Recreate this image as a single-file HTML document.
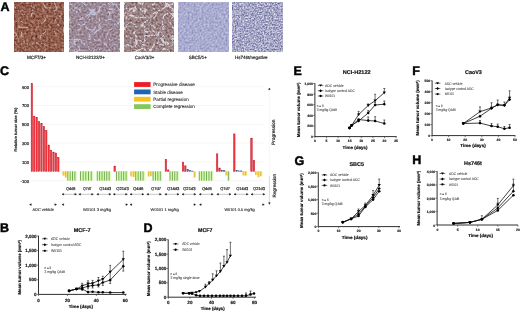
<!DOCTYPE html>
<html><head><meta charset="utf-8"><title>Figure</title>
<style>html,body{margin:0;padding:0;background:#fff;width:520px;height:312px;overflow:hidden}svg{display:block}</style>
</head><body>
<svg width="520" height="312" viewBox="0 0 520 312" font-family='"Liberation Sans", Arial, sans-serif' text-rendering="geometricPrecision">
<rect width="520" height="312" fill="#fff"/>
<defs><filter id="tx0" x="0" y="0" width="1" height="1" color-interpolation-filters="sRGB"><feTurbulence type="fractalNoise" baseFrequency="0.45" numOctaves="2" seed="3" result="n1"/><feColorMatrix in="n1" type="matrix" values="0.569 0 0 0 0.284  0.535 0 0 0 0.097  0.500 0 0 0 0.052  0 0 0 0 1" result="base0"/><feOffset in="base0" dx="0" dy="0" result="base"/><feTurbulence type="turbulence" baseFrequency="0.09" numOctaves="3" seed="4" result="n2"/><feColorMatrix in="n2" type="matrix" values="0 0 0 0 0.784  0 0 0 0 0.690  0 0 0 0 0.686  -9.000 0 0 0 1.350" result="st0"/><feOffset in="st0" dx="0" dy="0" result="st"/><feComposite in="st" in2="base" operator="over"/></filter><filter id="tx1" x="0" y="0" width="1" height="1" color-interpolation-filters="sRGB"><feTurbulence type="fractalNoise" baseFrequency="0.5" numOctaves="2" seed="5" result="n1"/><feColorMatrix in="n1" type="matrix" values="0.424 0 0 0 0.396  0.486 0 0 0 0.286  0.502 0 0 0 0.329  0 0 0 0 1" result="base0"/><feOffset in="base0" dx="0" dy="0" result="base"/><feTurbulence type="turbulence" baseFrequency="0.1" numOctaves="3" seed="6" result="n2"/><feColorMatrix in="n2" type="matrix" values="0 0 0 0 0.769  0 0 0 0 0.776  0 0 0 0 0.878  -8.000 0 0 0 1.500" result="st0"/><feOffset in="st0" dx="0" dy="0" result="st"/><feComposite in="st" in2="base" operator="over"/></filter><filter id="tx2" x="0" y="0" width="1" height="1" color-interpolation-filters="sRGB"><feTurbulence type="fractalNoise" baseFrequency="0.5" numOctaves="2" seed="7" result="n1"/><feColorMatrix in="n1" type="matrix" values="0.507 0 0 0 0.343  0.626 0 0 0 0.189  0.715 0 0 0 0.152  0 0 0 0 1" result="base0"/><feOffset in="base0" dx="0" dy="0" result="base"/><feTurbulence type="turbulence" baseFrequency="0.11" numOctaves="3" seed="8" result="n2"/><feColorMatrix in="n2" type="matrix" values="0 0 0 0 0.871  0 0 0 0 0.855  0 0 0 0 0.894  -8.000 0 0 0 1.600" result="st0"/><feOffset in="st0" dx="0" dy="0" result="st"/><feComposite in="st" in2="base" operator="over"/></filter><filter id="tx3" x="0" y="0" width="1" height="1" color-interpolation-filters="sRGB"><feTurbulence type="fractalNoise" baseFrequency="0.5" numOctaves="2" seed="9" result="n1"/><feColorMatrix in="n1" type="matrix" values="0.376 0 0 0 0.473  0.376 0 0 0 0.481  0.275 0 0 0 0.676  0 0 0 0 1" result="base0"/><feGaussianBlur in="base0" stdDeviation="0.35" result="base"/><feTurbulence type="turbulence" baseFrequency="0.08" numOctaves="3" seed="10" result="n2"/><feColorMatrix in="n2" type="matrix" values="0 0 0 0 0.784  0 0 0 0 0.792  0 0 0 0 0.894  -4.000 0 0 0 0.500" result="st0"/><feOffset in="st0" dx="0" dy="0" result="st"/><feComposite in="st" in2="base" operator="over"/></filter><filter id="tx4" x="0" y="0" width="1" height="1" color-interpolation-filters="sRGB"><feTurbulence type="fractalNoise" baseFrequency="0.65" numOctaves="2" seed="11" result="n1"/><feColorMatrix in="n1" type="matrix" values="0.831 0 0 0 0.231  0.831 0 0 0 0.231  0.612 0 0 0 0.467  0 0 0 0 1" result="base0"/><feGaussianBlur in="base0" stdDeviation="0.3" result="base"/><feTurbulence type="turbulence" baseFrequency="0.1" numOctaves="3" seed="12" result="n2"/><feColorMatrix in="n2" type="matrix" values="0 0 0 0 0.804  0 0 0 0 0.804  0 0 0 0 0.894  -4.000 0 0 0 0.400" result="st0"/><feOffset in="st0" dx="0" dy="0" result="st"/><feComposite in="st" in2="base" operator="over"/></filter></defs>
<rect x="14.00" y="2" width="50" height="49.6" filter="url(#tx0)"/>
<text x="27.00" y="59.30" font-size="4.6" textLength="19.00" lengthAdjust="spacingAndGlyphs" fill="#222" stroke="#222" stroke-width="0.18">MCF7/3+</text>
<rect x="69.30" y="2" width="50" height="49.6" filter="url(#tx1)"/>
<text x="76.00" y="59.30" font-size="4.6" textLength="29.00" lengthAdjust="spacingAndGlyphs" fill="#222" stroke="#222" stroke-width="0.18">NCI-H2122/2+</text>
<rect x="124.00" y="2" width="50" height="49.6" filter="url(#tx2)"/>
<text x="134.80" y="59.30" font-size="4.6" textLength="19.60" lengthAdjust="spacingAndGlyphs" fill="#222" stroke="#222" stroke-width="0.18">CaoV3/2+</text>
<rect x="178.60" y="2" width="50" height="49.6" filter="url(#tx3)"/>
<text x="188.80" y="59.30" font-size="4.6" textLength="18.10" lengthAdjust="spacingAndGlyphs" fill="#222" stroke="#222" stroke-width="0.18">SBC5/1+</text>
<rect x="232.60" y="2" width="50" height="49.6" filter="url(#tx4)"/>
<text x="235.00" y="59.30" font-size="4.6" textLength="32.50" lengthAdjust="spacingAndGlyphs" fill="#222" stroke="#222" stroke-width="0.18">Hs746t/negative</text>
<text x="0.40" y="11.00" font-size="12.5" font-weight="bold" fill="#000" stroke="#000" stroke-width="0.45">A</text>
<text x="0.10" y="75.10" font-size="12.5" font-weight="bold" fill="#000" stroke="#000" stroke-width="0.45">C</text>
<text x="-0.10" y="231.90" font-size="12.5" font-weight="bold" fill="#000" stroke="#000" stroke-width="0.45">B</text>
<text x="143.50" y="231.80" font-size="12.5" font-weight="bold" fill="#000" stroke="#000" stroke-width="0.45">D</text>
<text x="293.40" y="75.10" font-size="12.5" font-weight="bold" fill="#000" stroke="#000" stroke-width="0.45">E</text>
<text x="412.20" y="75.20" font-size="12.5" font-weight="bold" fill="#000" stroke="#000" stroke-width="0.45">F</text>
<text x="294.50" y="164.60" font-size="12.5" font-weight="bold" fill="#000" stroke="#000" stroke-width="0.45">G</text>
<text x="412.30" y="164.30" font-size="12.5" font-weight="bold" fill="#000" stroke="#000" stroke-width="0.45">H</text>
<line x1="30.50" y1="86.70" x2="264.00" y2="86.70" stroke="#ececec" stroke-width="0.5"/>
<line x1="30.50" y1="105.50" x2="264.00" y2="105.50" stroke="#ececec" stroke-width="0.5"/>
<line x1="30.50" y1="124.30" x2="264.00" y2="124.30" stroke="#ececec" stroke-width="0.5"/>
<line x1="30.50" y1="143.10" x2="264.00" y2="143.10" stroke="#ececec" stroke-width="0.5"/>
<line x1="30.50" y1="161.90" x2="264.00" y2="161.90" stroke="#ececec" stroke-width="0.5"/>
<line x1="30.50" y1="180.70" x2="264.00" y2="180.70" stroke="#ececec" stroke-width="0.5"/>
<text x="29.10" y="88.65" font-size="4.3" text-anchor="end" fill="#222" stroke="#222" stroke-width="0.18">900</text>
<text x="29.10" y="107.45" font-size="4.3" text-anchor="end" fill="#222" stroke="#222" stroke-width="0.18">700</text>
<text x="29.10" y="126.25" font-size="4.3" text-anchor="end" fill="#222" stroke="#222" stroke-width="0.18">500</text>
<text x="29.10" y="145.05" font-size="4.3" text-anchor="end" fill="#222" stroke="#222" stroke-width="0.18">300</text>
<text x="29.10" y="163.85" font-size="4.3" text-anchor="end" fill="#222" stroke="#222" stroke-width="0.18">100</text>
<text x="29.10" y="182.65" font-size="4.3" text-anchor="end" fill="#222" stroke="#222" stroke-width="0.18">-100</text>
<text transform="translate(17.40,129.60) rotate(-90)" x="0" y="0" font-size="3.9" text-anchor="middle" textLength="43.80" lengthAdjust="spacingAndGlyphs" fill="#222" stroke="#222" stroke-width="0.18">Relative tumor size (%)</text>
<rect x="31.15" y="83.50" width="1.35" height="87.80" fill="#ff3a42" stroke="#c0101e" stroke-width="0.5"/>
<rect x="33.56" y="116.20" width="1.35" height="55.10" fill="#ff3a42" stroke="#c0101e" stroke-width="0.5"/>
<rect x="35.97" y="117.40" width="1.35" height="53.90" fill="#ff3a42" stroke="#c0101e" stroke-width="0.5"/>
<rect x="38.38" y="121.60" width="1.35" height="49.70" fill="#ff3a42" stroke="#c0101e" stroke-width="0.5"/>
<rect x="40.79" y="123.40" width="1.35" height="47.90" fill="#ff3a42" stroke="#c0101e" stroke-width="0.5"/>
<rect x="43.20" y="126.70" width="1.35" height="44.60" fill="#ff3a42" stroke="#c0101e" stroke-width="0.5"/>
<rect x="45.61" y="130.60" width="1.35" height="40.70" fill="#ff3a42" stroke="#c0101e" stroke-width="0.5"/>
<rect x="48.02" y="145.00" width="1.35" height="26.30" fill="#ff3a42" stroke="#c0101e" stroke-width="0.5"/>
<rect x="50.43" y="150.40" width="1.35" height="20.90" fill="#ff3a42" stroke="#c0101e" stroke-width="0.5"/>
<rect x="52.84" y="152.10" width="1.35" height="19.20" fill="#ff3a42" stroke="#c0101e" stroke-width="0.5"/>
<rect x="55.25" y="153.00" width="1.35" height="18.30" fill="#ff3a42" stroke="#c0101e" stroke-width="0.5"/>
<rect x="57.66" y="157.50" width="1.35" height="13.80" fill="#ff3a42" stroke="#c0101e" stroke-width="0.5"/>
<rect x="62.75" y="171.30" width="2.07" height="4.32" fill="#fbdc60"/>
<line x1="63.05" y1="171.30" x2="63.05" y2="175.62" stroke="#d8a82a" stroke-width="0.7"/>
<rect x="65.12" y="171.30" width="2.07" height="6.20" fill="#fbdc60"/>
<line x1="65.42" y1="171.30" x2="65.42" y2="177.50" stroke="#d8a82a" stroke-width="0.7"/>
<rect x="67.48" y="171.30" width="2.07" height="9.40" fill="#d4ffaa"/>
<line x1="67.78" y1="171.30" x2="67.78" y2="180.70" stroke="#4a8428" stroke-width="0.7"/>
<rect x="69.85" y="171.30" width="2.07" height="9.40" fill="#d4ffaa"/>
<line x1="70.15" y1="171.30" x2="70.15" y2="180.70" stroke="#4a8428" stroke-width="0.7"/>
<rect x="72.22" y="171.30" width="2.07" height="9.40" fill="#d4ffaa"/>
<line x1="72.52" y1="171.30" x2="72.52" y2="180.70" stroke="#4a8428" stroke-width="0.7"/>
<rect x="74.58" y="171.30" width="2.07" height="9.40" fill="#d4ffaa"/>
<line x1="74.88" y1="171.30" x2="74.88" y2="180.70" stroke="#4a8428" stroke-width="0.7"/>
<rect x="80.15" y="171.30" width="2.38" height="9.40" fill="#d4ffaa"/>
<line x1="80.45" y1="171.30" x2="80.45" y2="180.70" stroke="#4a8428" stroke-width="0.7"/>
<rect x="82.83" y="171.30" width="2.38" height="9.40" fill="#d4ffaa"/>
<line x1="83.13" y1="171.30" x2="83.13" y2="180.70" stroke="#4a8428" stroke-width="0.7"/>
<rect x="85.51" y="171.30" width="2.38" height="9.40" fill="#d4ffaa"/>
<line x1="85.81" y1="171.30" x2="85.81" y2="180.70" stroke="#4a8428" stroke-width="0.7"/>
<rect x="88.19" y="171.30" width="2.38" height="9.40" fill="#d4ffaa"/>
<line x1="88.49" y1="171.30" x2="88.49" y2="180.70" stroke="#4a8428" stroke-width="0.7"/>
<rect x="90.87" y="171.30" width="2.38" height="9.40" fill="#d4ffaa"/>
<line x1="91.17" y1="171.30" x2="91.17" y2="180.70" stroke="#4a8428" stroke-width="0.7"/>
<rect x="96.95" y="171.30" width="2.07" height="9.40" fill="#d4ffaa"/>
<line x1="97.25" y1="171.30" x2="97.25" y2="180.70" stroke="#4a8428" stroke-width="0.7"/>
<rect x="99.32" y="171.30" width="2.07" height="9.40" fill="#d4ffaa"/>
<line x1="99.62" y1="171.30" x2="99.62" y2="180.70" stroke="#4a8428" stroke-width="0.7"/>
<rect x="101.68" y="171.30" width="2.07" height="9.40" fill="#d4ffaa"/>
<line x1="101.98" y1="171.30" x2="101.98" y2="180.70" stroke="#4a8428" stroke-width="0.7"/>
<rect x="104.05" y="171.30" width="2.07" height="9.40" fill="#d4ffaa"/>
<line x1="104.35" y1="171.30" x2="104.35" y2="180.70" stroke="#4a8428" stroke-width="0.7"/>
<rect x="106.42" y="171.30" width="2.07" height="9.40" fill="#d4ffaa"/>
<line x1="106.72" y1="171.30" x2="106.72" y2="180.70" stroke="#4a8428" stroke-width="0.7"/>
<rect x="108.78" y="171.30" width="2.07" height="9.40" fill="#d4ffaa"/>
<line x1="109.08" y1="171.30" x2="109.08" y2="180.70" stroke="#4a8428" stroke-width="0.7"/>
<rect x="113.95" y="166.13" width="1.45" height="5.17" fill="#ff3a42" stroke="#c0101e" stroke-width="0.5"/>
<rect x="116.15" y="171.30" width="2.10" height="9.40" fill="#d4ffaa"/>
<line x1="116.45" y1="171.30" x2="116.45" y2="180.70" stroke="#4a8428" stroke-width="0.7"/>
<rect x="118.55" y="171.30" width="2.10" height="9.40" fill="#d4ffaa"/>
<line x1="118.85" y1="171.30" x2="118.85" y2="180.70" stroke="#4a8428" stroke-width="0.7"/>
<rect x="120.95" y="171.30" width="2.10" height="9.40" fill="#d4ffaa"/>
<line x1="121.25" y1="171.30" x2="121.25" y2="180.70" stroke="#4a8428" stroke-width="0.7"/>
<rect x="123.35" y="171.30" width="2.10" height="9.40" fill="#d4ffaa"/>
<line x1="123.65" y1="171.30" x2="123.65" y2="180.70" stroke="#4a8428" stroke-width="0.7"/>
<rect x="125.75" y="171.30" width="2.10" height="9.40" fill="#d4ffaa"/>
<line x1="126.05" y1="171.30" x2="126.05" y2="180.70" stroke="#4a8428" stroke-width="0.7"/>
<rect x="130.55" y="171.30" width="2.13" height="5.17" fill="#fbdc60"/>
<line x1="130.85" y1="171.30" x2="130.85" y2="176.47" stroke="#d8a82a" stroke-width="0.7"/>
<rect x="132.98" y="171.30" width="2.13" height="5.64" fill="#fbdc60"/>
<line x1="133.28" y1="171.30" x2="133.28" y2="176.94" stroke="#d8a82a" stroke-width="0.7"/>
<rect x="135.42" y="171.30" width="2.13" height="9.40" fill="#d4ffaa"/>
<line x1="135.72" y1="171.30" x2="135.72" y2="180.70" stroke="#4a8428" stroke-width="0.7"/>
<rect x="137.85" y="171.30" width="2.13" height="9.40" fill="#d4ffaa"/>
<line x1="138.15" y1="171.30" x2="138.15" y2="180.70" stroke="#4a8428" stroke-width="0.7"/>
<rect x="140.28" y="171.30" width="2.13" height="9.40" fill="#d4ffaa"/>
<line x1="140.58" y1="171.30" x2="140.58" y2="180.70" stroke="#4a8428" stroke-width="0.7"/>
<rect x="142.72" y="171.30" width="2.13" height="9.40" fill="#d4ffaa"/>
<line x1="143.02" y1="171.30" x2="143.02" y2="180.70" stroke="#4a8428" stroke-width="0.7"/>
<rect x="147.95" y="171.30" width="2.10" height="5.17" fill="#fbdc60"/>
<line x1="148.25" y1="171.30" x2="148.25" y2="176.47" stroke="#d8a82a" stroke-width="0.7"/>
<rect x="150.35" y="171.30" width="2.10" height="4.89" fill="#fbdc60"/>
<line x1="150.65" y1="171.30" x2="150.65" y2="176.19" stroke="#d8a82a" stroke-width="0.7"/>
<rect x="152.75" y="171.30" width="2.10" height="9.40" fill="#d4ffaa"/>
<line x1="153.05" y1="171.30" x2="153.05" y2="180.70" stroke="#4a8428" stroke-width="0.7"/>
<rect x="155.15" y="171.30" width="2.10" height="9.40" fill="#d4ffaa"/>
<line x1="155.45" y1="171.30" x2="155.45" y2="180.70" stroke="#4a8428" stroke-width="0.7"/>
<rect x="157.55" y="171.30" width="2.10" height="9.40" fill="#d4ffaa"/>
<line x1="157.85" y1="171.30" x2="157.85" y2="180.70" stroke="#4a8428" stroke-width="0.7"/>
<rect x="159.95" y="171.30" width="2.10" height="9.40" fill="#d4ffaa"/>
<line x1="160.25" y1="171.30" x2="160.25" y2="180.70" stroke="#4a8428" stroke-width="0.7"/>
<rect x="165.15" y="159.36" width="1.42" height="11.94" fill="#ff3a42" stroke="#c0101e" stroke-width="0.5"/>
<rect x="167.52" y="169.89" width="1.42" height="1.41" fill="#ff3a42" stroke="#c0101e" stroke-width="0.5"/>
<rect x="169.68" y="171.30" width="2.07" height="9.40" fill="#d4ffaa"/>
<line x1="169.98" y1="171.30" x2="169.98" y2="180.70" stroke="#4a8428" stroke-width="0.7"/>
<rect x="172.05" y="171.30" width="2.07" height="9.40" fill="#d4ffaa"/>
<line x1="172.35" y1="171.30" x2="172.35" y2="180.70" stroke="#4a8428" stroke-width="0.7"/>
<rect x="174.42" y="171.30" width="2.07" height="9.40" fill="#d4ffaa"/>
<line x1="174.72" y1="171.30" x2="174.72" y2="180.70" stroke="#4a8428" stroke-width="0.7"/>
<rect x="176.78" y="171.30" width="2.07" height="9.40" fill="#d4ffaa"/>
<line x1="177.08" y1="171.30" x2="177.08" y2="180.70" stroke="#4a8428" stroke-width="0.7"/>
<rect x="182.35" y="162.09" width="1.38" height="9.21" fill="#ff3a42" stroke="#c0101e" stroke-width="0.5"/>
<rect x="184.68" y="165.85" width="1.38" height="5.45" fill="#ff3a42" stroke="#c0101e" stroke-width="0.5"/>
<rect x="187.02" y="169.61" width="1.38" height="1.69" fill="#5a7fb8" stroke="#2a4a80" stroke-width="0.5"/>
<rect x="189.35" y="170.45" width="1.38" height="0.85" fill="#5a7fb8" stroke="#2a4a80" stroke-width="0.5"/>
<rect x="191.68" y="171.02" width="1.38" height="0.28" fill="#5a7fb8" stroke="#2a4a80" stroke-width="0.5"/>
<rect x="193.82" y="171.30" width="2.03" height="6.20" fill="#fbdc60"/>
<line x1="194.12" y1="171.30" x2="194.12" y2="177.50" stroke="#d8a82a" stroke-width="0.7"/>
<rect x="198.95" y="171.30" width="2.12" height="9.40" fill="#d4ffaa"/>
<line x1="199.25" y1="171.30" x2="199.25" y2="180.70" stroke="#4a8428" stroke-width="0.7"/>
<rect x="201.37" y="171.30" width="2.12" height="9.40" fill="#d4ffaa"/>
<line x1="201.67" y1="171.30" x2="201.67" y2="180.70" stroke="#4a8428" stroke-width="0.7"/>
<rect x="203.78" y="171.30" width="2.12" height="9.40" fill="#d4ffaa"/>
<line x1="204.08" y1="171.30" x2="204.08" y2="180.70" stroke="#4a8428" stroke-width="0.7"/>
<rect x="206.20" y="171.30" width="2.12" height="9.40" fill="#d4ffaa"/>
<line x1="206.50" y1="171.30" x2="206.50" y2="180.70" stroke="#4a8428" stroke-width="0.7"/>
<rect x="208.62" y="171.30" width="2.12" height="9.40" fill="#d4ffaa"/>
<line x1="208.92" y1="171.30" x2="208.92" y2="180.70" stroke="#4a8428" stroke-width="0.7"/>
<rect x="211.03" y="171.30" width="2.12" height="9.40" fill="#d4ffaa"/>
<line x1="211.33" y1="171.30" x2="211.33" y2="180.70" stroke="#4a8428" stroke-width="0.7"/>
<rect x="216.45" y="153.82" width="1.40" height="17.48" fill="#ff3a42" stroke="#c0101e" stroke-width="0.5"/>
<rect x="218.80" y="168.01" width="1.40" height="3.29" fill="#ff3a42" stroke="#c0101e" stroke-width="0.5"/>
<rect x="221.15" y="170.17" width="1.40" height="1.13" fill="#5a7fb8" stroke="#2a4a80" stroke-width="0.5"/>
<rect x="223.50" y="170.74" width="1.40" height="0.56" fill="#5a7fb8" stroke="#2a4a80" stroke-width="0.5"/>
<rect x="225.65" y="171.30" width="2.05" height="4.23" fill="#fbdc60"/>
<line x1="225.95" y1="171.30" x2="225.95" y2="175.53" stroke="#d8a82a" stroke-width="0.7"/>
<rect x="228.00" y="171.30" width="2.05" height="9.40" fill="#d4ffaa"/>
<line x1="228.30" y1="171.30" x2="228.30" y2="180.70" stroke="#4a8428" stroke-width="0.7"/>
<rect x="233.65" y="133.98" width="1.38" height="37.32" fill="#ff3a42" stroke="#c0101e" stroke-width="0.5"/>
<rect x="235.98" y="170.74" width="1.38" height="0.56" fill="#5a7fb8" stroke="#2a4a80" stroke-width="0.5"/>
<rect x="238.32" y="170.83" width="1.38" height="0.47" fill="#5a7fb8" stroke="#2a4a80" stroke-width="0.5"/>
<rect x="240.65" y="170.92" width="1.38" height="0.38" fill="#5a7fb8" stroke="#2a4a80" stroke-width="0.5"/>
<rect x="242.78" y="171.30" width="2.03" height="4.23" fill="#fbdc60"/>
<line x1="243.08" y1="171.30" x2="243.08" y2="175.53" stroke="#d8a82a" stroke-width="0.7"/>
<rect x="245.12" y="171.30" width="2.03" height="4.23" fill="#fbdc60"/>
<line x1="245.42" y1="171.30" x2="245.42" y2="175.53" stroke="#d8a82a" stroke-width="0.7"/>
<rect x="250.75" y="138.21" width="1.45" height="33.09" fill="#ff3a42" stroke="#c0101e" stroke-width="0.5"/>
<rect x="253.15" y="160.40" width="1.45" height="10.90" fill="#ff3a42" stroke="#c0101e" stroke-width="0.5"/>
<rect x="255.35" y="171.30" width="2.10" height="3.76" fill="#fbdc60"/>
<line x1="255.65" y1="171.30" x2="255.65" y2="175.06" stroke="#d8a82a" stroke-width="0.7"/>
<rect x="257.75" y="171.30" width="2.10" height="5.83" fill="#fbdc60"/>
<line x1="258.05" y1="171.30" x2="258.05" y2="177.13" stroke="#d8a82a" stroke-width="0.7"/>
<rect x="260.15" y="171.30" width="2.10" height="4.89" fill="#fbdc60"/>
<line x1="260.45" y1="171.30" x2="260.45" y2="176.19" stroke="#d8a82a" stroke-width="0.7"/>
<rect x="134.10" y="82.10" width="16.50" height="4.80" fill="#ee1c24"/>
<text x="153.30" y="86.20" font-size="4.6" textLength="41.50" lengthAdjust="spacingAndGlyphs" fill="#2a2a2a" stroke="#2a2a2a" stroke-width="0.1">Progressive disease</text>
<rect x="134.10" y="89.50" width="16.50" height="4.80" fill="#1c63b4"/>
<text x="153.30" y="93.60" font-size="4.6" textLength="29.40" lengthAdjust="spacingAndGlyphs" fill="#2a2a2a" stroke="#2a2a2a" stroke-width="0.1">Stable disease</text>
<rect x="134.10" y="96.80" width="16.50" height="4.80" fill="#f7c21c"/>
<text x="153.30" y="100.90" font-size="4.6" textLength="35.40" lengthAdjust="spacingAndGlyphs" fill="#2a2a2a" stroke="#2a2a2a" stroke-width="0.1">Partial regression</text>
<rect x="134.10" y="104.20" width="16.50" height="4.80" fill="#86c65a"/>
<text x="153.30" y="108.30" font-size="4.6" textLength="41.50" lengthAdjust="spacingAndGlyphs" fill="#2a2a2a" stroke="#2a2a2a" stroke-width="0.1">Complete regression</text>
<text x="66.10" y="190.20" font-size="4.1" textLength="9.40" lengthAdjust="spacingAndGlyphs" fill="#222" stroke="#222" stroke-width="0.18">Q4d6</text>
<text x="83.00" y="190.20" font-size="4.1" textLength="8.50" lengthAdjust="spacingAndGlyphs" fill="#222" stroke="#222" stroke-width="0.18">Q7d7</text>
<text x="99.30" y="190.20" font-size="4.1" textLength="11.80" lengthAdjust="spacingAndGlyphs" fill="#222" stroke="#222" stroke-width="0.18">Q14d3</text>
<text x="116.30" y="190.20" font-size="4.1" textLength="12.40" lengthAdjust="spacingAndGlyphs" fill="#222" stroke="#222" stroke-width="0.18">Q21d3</text>
<text x="133.00" y="190.20" font-size="4.1" textLength="10.50" lengthAdjust="spacingAndGlyphs" fill="#222" stroke="#222" stroke-width="0.18">Q4d6</text>
<text x="151.00" y="190.20" font-size="4.1" textLength="10.00" lengthAdjust="spacingAndGlyphs" fill="#222" stroke="#222" stroke-width="0.18">Q7d7</text>
<text x="166.90" y="190.20" font-size="4.1" textLength="12.50" lengthAdjust="spacingAndGlyphs" fill="#222" stroke="#222" stroke-width="0.18">Q14d3</text>
<text x="183.10" y="190.20" font-size="4.1" textLength="12.50" lengthAdjust="spacingAndGlyphs" fill="#222" stroke="#222" stroke-width="0.18">Q21d3</text>
<text x="201.90" y="190.20" font-size="4.1" textLength="10.00" lengthAdjust="spacingAndGlyphs" fill="#222" stroke="#222" stroke-width="0.18">Q4d6</text>
<text x="220.30" y="190.20" font-size="4.1" textLength="9.50" lengthAdjust="spacingAndGlyphs" fill="#222" stroke="#222" stroke-width="0.18">Q7d7</text>
<text x="236.30" y="190.20" font-size="4.1" textLength="11.80" lengthAdjust="spacingAndGlyphs" fill="#222" stroke="#222" stroke-width="0.18">Q14d3</text>
<text x="253.10" y="190.20" font-size="4.1" textLength="11.90" lengthAdjust="spacingAndGlyphs" fill="#222" stroke="#222" stroke-width="0.18">Q21d3</text>
<line x1="62.00" y1="194.30" x2="76.50" y2="194.30" stroke="#8a8a8a" stroke-width="0.5"/>
<polygon points="62.00,194.30 63.68,193.51 63.68,195.09" fill="#111" stroke="#111" stroke-width="0.45" stroke-linejoin="round"/>
<polygon points="76.50,194.30 74.82,193.51 74.82,195.09" fill="#111" stroke="#111" stroke-width="0.45" stroke-linejoin="round"/>
<line x1="78.80" y1="194.30" x2="93.30" y2="194.30" stroke="#8a8a8a" stroke-width="0.5"/>
<polygon points="78.80,194.30 80.48,193.51 80.48,195.09" fill="#111" stroke="#111" stroke-width="0.45" stroke-linejoin="round"/>
<polygon points="93.30,194.30 91.62,193.51 91.62,195.09" fill="#111" stroke="#111" stroke-width="0.45" stroke-linejoin="round"/>
<line x1="96.80" y1="194.30" x2="110.80" y2="194.30" stroke="#8a8a8a" stroke-width="0.5"/>
<polygon points="96.80,194.30 98.48,193.51 98.48,195.09" fill="#111" stroke="#111" stroke-width="0.45" stroke-linejoin="round"/>
<polygon points="110.80,194.30 109.12,193.51 109.12,195.09" fill="#111" stroke="#111" stroke-width="0.45" stroke-linejoin="round"/>
<line x1="113.30" y1="194.30" x2="127.30" y2="194.30" stroke="#8a8a8a" stroke-width="0.5"/>
<polygon points="113.30,194.30 114.98,193.51 114.98,195.09" fill="#111" stroke="#111" stroke-width="0.45" stroke-linejoin="round"/>
<polygon points="127.30,194.30 125.62,193.51 125.62,195.09" fill="#111" stroke="#111" stroke-width="0.45" stroke-linejoin="round"/>
<line x1="130.00" y1="194.30" x2="143.80" y2="194.30" stroke="#8a8a8a" stroke-width="0.5"/>
<polygon points="130.00,194.30 131.68,193.51 131.68,195.09" fill="#111" stroke="#111" stroke-width="0.45" stroke-linejoin="round"/>
<polygon points="143.80,194.30 142.12,193.51 142.12,195.09" fill="#111" stroke="#111" stroke-width="0.45" stroke-linejoin="round"/>
<line x1="146.80" y1="194.30" x2="161.30" y2="194.30" stroke="#8a8a8a" stroke-width="0.5"/>
<polygon points="146.80,194.30 148.48,193.51 148.48,195.09" fill="#111" stroke="#111" stroke-width="0.45" stroke-linejoin="round"/>
<polygon points="161.30,194.30 159.62,193.51 159.62,195.09" fill="#111" stroke="#111" stroke-width="0.45" stroke-linejoin="round"/>
<line x1="164.80" y1="194.30" x2="179.00" y2="194.30" stroke="#8a8a8a" stroke-width="0.5"/>
<polygon points="164.80,194.30 166.48,193.51 166.48,195.09" fill="#111" stroke="#111" stroke-width="0.45" stroke-linejoin="round"/>
<polygon points="179.00,194.30 177.32,193.51 177.32,195.09" fill="#111" stroke="#111" stroke-width="0.45" stroke-linejoin="round"/>
<line x1="182.00" y1="194.30" x2="195.80" y2="194.30" stroke="#8a8a8a" stroke-width="0.5"/>
<polygon points="182.00,194.30 183.68,193.51 183.68,195.09" fill="#111" stroke="#111" stroke-width="0.45" stroke-linejoin="round"/>
<polygon points="195.80,194.30 194.12,193.51 194.12,195.09" fill="#111" stroke="#111" stroke-width="0.45" stroke-linejoin="round"/>
<line x1="199.30" y1="194.30" x2="213.20" y2="194.30" stroke="#8a8a8a" stroke-width="0.5"/>
<polygon points="199.30,194.30 200.98,193.51 200.98,195.09" fill="#111" stroke="#111" stroke-width="0.45" stroke-linejoin="round"/>
<polygon points="213.20,194.30 211.52,193.51 211.52,195.09" fill="#111" stroke="#111" stroke-width="0.45" stroke-linejoin="round"/>
<line x1="216.80" y1="194.30" x2="231.00" y2="194.30" stroke="#8a8a8a" stroke-width="0.5"/>
<polygon points="216.80,194.30 218.48,193.51 218.48,195.09" fill="#111" stroke="#111" stroke-width="0.45" stroke-linejoin="round"/>
<polygon points="231.00,194.30 229.32,193.51 229.32,195.09" fill="#111" stroke="#111" stroke-width="0.45" stroke-linejoin="round"/>
<line x1="234.00" y1="194.30" x2="248.20" y2="194.30" stroke="#8a8a8a" stroke-width="0.5"/>
<polygon points="234.00,194.30 235.68,193.51 235.68,195.09" fill="#111" stroke="#111" stroke-width="0.45" stroke-linejoin="round"/>
<polygon points="248.20,194.30 246.52,193.51 246.52,195.09" fill="#111" stroke="#111" stroke-width="0.45" stroke-linejoin="round"/>
<line x1="251.00" y1="194.30" x2="264.80" y2="194.30" stroke="#8a8a8a" stroke-width="0.5"/>
<polygon points="251.00,194.30 252.68,193.51 252.68,195.09" fill="#111" stroke="#111" stroke-width="0.45" stroke-linejoin="round"/>
<polygon points="264.80,194.30 263.12,193.51 263.12,195.09" fill="#111" stroke="#111" stroke-width="0.45" stroke-linejoin="round"/>
<polygon points="29.60,204.60 31.28,203.81 31.28,205.39" fill="#111" stroke="#111" stroke-width="0.45" stroke-linejoin="round"/>
<polygon points="56.50,204.60 54.82,203.81 54.82,205.39" fill="#111" stroke="#111" stroke-width="0.45" stroke-linejoin="round"/>
<polygon points="62.00,204.60 63.68,203.81 63.68,205.39" fill="#111" stroke="#111" stroke-width="0.45" stroke-linejoin="round"/>
<polygon points="127.60,204.60 125.92,203.81 125.92,205.39" fill="#111" stroke="#111" stroke-width="0.45" stroke-linejoin="round"/>
<polygon points="130.00,204.60 131.68,203.81 131.68,205.39" fill="#111" stroke="#111" stroke-width="0.45" stroke-linejoin="round"/>
<polygon points="195.60,204.60 193.92,203.81 193.92,205.39" fill="#111" stroke="#111" stroke-width="0.45" stroke-linejoin="round"/>
<polygon points="199.50,204.60 201.18,203.81 201.18,205.39" fill="#111" stroke="#111" stroke-width="0.45" stroke-linejoin="round"/>
<polygon points="264.30,204.60 262.62,203.81 262.62,205.39" fill="#111" stroke="#111" stroke-width="0.45" stroke-linejoin="round"/>
<text x="32.50" y="211.20" font-size="4.0" textLength="21.30" lengthAdjust="spacingAndGlyphs" fill="#2a2a2a" stroke="#2a2a2a" stroke-width="0.12">ADC vehicle</text>
<text x="83.00" y="211.20" font-size="4.0" textLength="28.00" lengthAdjust="spacingAndGlyphs" fill="#2a2a2a" stroke="#2a2a2a" stroke-width="0.12">W0101 3 mg/kg</text>
<text x="150.60" y="211.20" font-size="4.0" textLength="28.20" lengthAdjust="spacingAndGlyphs" fill="#2a2a2a" stroke="#2a2a2a" stroke-width="0.12">W0101 1 mg/kg</text>
<text x="224.40" y="211.20" font-size="4.0" textLength="30.40" lengthAdjust="spacingAndGlyphs" fill="#2a2a2a" stroke="#2a2a2a" stroke-width="0.12">W0101 0.5 mg/kg</text>
<line x1="269.40" y1="89.50" x2="269.40" y2="176.00" stroke="#f0f0f0" stroke-width="0.45"/>
<line x1="269.40" y1="176.00" x2="269.40" y2="203.00" stroke="#a8a8a8" stroke-width="0.45"/>
<polygon points="269.40,88.00 268.65,89.60 270.15,89.60" fill="#111" stroke="#111" stroke-width="0.45" stroke-linejoin="round"/>
<polygon points="269.40,204.30 268.65,202.70 270.15,202.70" fill="#111" stroke="#111" stroke-width="0.45" stroke-linejoin="round"/>
<text transform="translate(275.29,132.30) rotate(-90)" x="0" y="0" font-size="4.7" text-anchor="middle" textLength="25.40" lengthAdjust="spacingAndGlyphs" fill="#222" stroke="#222" stroke-width="0.18">Progression</text>
<text transform="translate(276.09,185.70) rotate(-90)" x="0" y="0" font-size="4.7" text-anchor="middle" textLength="23.40" lengthAdjust="spacingAndGlyphs" fill="#222" stroke="#222" stroke-width="0.18">Regression</text>
<line x1="38.50" y1="235.70" x2="38.50" y2="294.40" stroke="#1a1a1a" stroke-width="0.9"/>
<line x1="38.50" y1="294.40" x2="126.50" y2="294.40" stroke="#1a1a1a" stroke-width="0.9"/>
<line x1="36.70" y1="236.00" x2="38.50" y2="236.00" stroke="#333" stroke-width="0.6"/>
<text x="36.60" y="237.50" font-size="4.5" font-weight="bold" text-anchor="end" fill="#222" stroke="#222" stroke-width="0.18">2,000</text>
<line x1="36.70" y1="250.60" x2="38.50" y2="250.60" stroke="#333" stroke-width="0.6"/>
<text x="36.60" y="252.10" font-size="4.5" font-weight="bold" text-anchor="end" fill="#222" stroke="#222" stroke-width="0.18">1,500</text>
<line x1="36.70" y1="265.20" x2="38.50" y2="265.20" stroke="#333" stroke-width="0.6"/>
<text x="36.60" y="266.70" font-size="4.5" font-weight="bold" text-anchor="end" fill="#222" stroke="#222" stroke-width="0.18">1,000</text>
<line x1="36.70" y1="279.80" x2="38.50" y2="279.80" stroke="#333" stroke-width="0.6"/>
<text x="36.60" y="281.30" font-size="4.5" font-weight="bold" text-anchor="end" fill="#222" stroke="#222" stroke-width="0.18">500</text>
<line x1="36.70" y1="294.40" x2="38.50" y2="294.40" stroke="#333" stroke-width="0.6"/>
<text x="36.60" y="295.90" font-size="4.5" font-weight="bold" text-anchor="end" fill="#222" stroke="#222" stroke-width="0.18">0</text>
<line x1="38.50" y1="294.40" x2="38.50" y2="296.00" stroke="#333" stroke-width="0.6"/>
<text x="38.50" y="301.50" font-size="4.5" font-weight="bold" text-anchor="middle" fill="#222" stroke="#222" stroke-width="0.18">0</text>
<line x1="67.43" y1="294.40" x2="67.43" y2="296.00" stroke="#333" stroke-width="0.6"/>
<text x="67.43" y="301.50" font-size="4.5" font-weight="bold" text-anchor="middle" fill="#222" stroke="#222" stroke-width="0.18">20</text>
<line x1="96.37" y1="294.40" x2="96.37" y2="296.00" stroke="#333" stroke-width="0.6"/>
<text x="96.37" y="301.50" font-size="4.5" font-weight="bold" text-anchor="middle" fill="#222" stroke="#222" stroke-width="0.18">40</text>
<line x1="125.30" y1="294.40" x2="125.30" y2="296.00" stroke="#333" stroke-width="0.6"/>
<text x="125.30" y="301.50" font-size="4.5" font-weight="bold" text-anchor="middle" fill="#222" stroke="#222" stroke-width="0.18">60</text>
<text x="73.80" y="231.90" font-size="5.5" font-weight="bold" textLength="16.70" lengthAdjust="spacingAndGlyphs" fill="#111" stroke="#111" stroke-width="0.18">MCF-7</text>
<line x1="42.00" y1="238.80" x2="47.60" y2="238.80" stroke="#111" stroke-width="0.6"/>
<polygon points="43.36,237.79 46.24,237.79 44.80,240.09" fill="#000"/>
<text x="51.00" y="240.10" font-size="3.9" textLength="19.00" lengthAdjust="spacingAndGlyphs" fill="#3a3a3a" stroke="#3a3a3a" stroke-width="0.06">ADC vehicle</text>
<line x1="42.00" y1="244.70" x2="47.60" y2="244.70" stroke="#111" stroke-width="0.6"/>
<polygon points="44.80,243.26 46.24,244.70 44.80,246.14 43.36,244.70" fill="#000"/>
<text x="51.00" y="246.00" font-size="3.9" textLength="30.50" lengthAdjust="spacingAndGlyphs" fill="#3a3a3a" stroke="#3a3a3a" stroke-width="0.06">Isotype control ADC</text>
<line x1="42.00" y1="250.80" x2="47.60" y2="250.80" stroke="#111" stroke-width="0.6"/>
<circle cx="44.80" cy="250.80" r="1.15" fill="#000"/>
<text x="51.00" y="252.10" font-size="3.9" textLength="11.00" lengthAdjust="spacingAndGlyphs" fill="#3a3a3a" stroke="#3a3a3a" stroke-width="0.06">W0101</text>
<text x="44.50" y="268.80" font-size="3.7" textLength="6.80" lengthAdjust="spacingAndGlyphs" fill="#3a3a3a" stroke="#3a3a3a" stroke-width="0.06">n = 5</text>
<text x="44.50" y="272.90" font-size="3.7" textLength="20.60" lengthAdjust="spacingAndGlyphs" fill="#3a3a3a" stroke="#3a3a3a" stroke-width="0.06">3 mg/kg Q4d6</text>
<text transform="translate(20.75,267.30) rotate(-90)" x="0" y="0" font-size="4.3" font-weight="bold" text-anchor="middle" textLength="54.60" lengthAdjust="spacingAndGlyphs" fill="#111" stroke="#111" stroke-width="0.18">Mean tumor volume (mm<tspan font-size="2.8" dy="-1.2">3</tspan><tspan dy="1.2">)</tspan></text>
<text x="68.75" y="307.90" font-size="4.4" font-weight="bold" textLength="24.25" lengthAdjust="spacingAndGlyphs" fill="#111" stroke="#111" stroke-width="0.18">Time (days)</text>
<polyline points="69.10,290.90 76.50,289.00 82.20,285.80 88.00,283.75 92.60,283.30 98.40,280.80 102.80,279.20 110.20,272.00 123.30,259.40" fill="none" stroke="#111" stroke-width="0.8" stroke-linejoin="round"/>
<line x1="82.20" y1="283.30" x2="82.20" y2="290.40" stroke="#111" stroke-width="0.6"/>
<line x1="81.20" y1="283.30" x2="83.20" y2="283.30" stroke="#111" stroke-width="0.6"/>
<line x1="81.20" y1="290.40" x2="83.20" y2="290.40" stroke="#111" stroke-width="0.6"/>
<line x1="88.00" y1="280.80" x2="88.00" y2="288.75" stroke="#111" stroke-width="0.6"/>
<line x1="87.00" y1="280.80" x2="89.00" y2="280.80" stroke="#111" stroke-width="0.6"/>
<line x1="87.00" y1="288.75" x2="89.00" y2="288.75" stroke="#111" stroke-width="0.6"/>
<line x1="92.60" y1="280.40" x2="92.60" y2="288.00" stroke="#111" stroke-width="0.6"/>
<line x1="91.60" y1="280.40" x2="93.60" y2="280.40" stroke="#111" stroke-width="0.6"/>
<line x1="91.60" y1="288.00" x2="93.60" y2="288.00" stroke="#111" stroke-width="0.6"/>
<line x1="98.40" y1="277.50" x2="98.40" y2="287.00" stroke="#111" stroke-width="0.6"/>
<line x1="97.40" y1="277.50" x2="99.40" y2="277.50" stroke="#111" stroke-width="0.6"/>
<line x1="97.40" y1="287.00" x2="99.40" y2="287.00" stroke="#111" stroke-width="0.6"/>
<line x1="102.80" y1="276.25" x2="102.80" y2="285.40" stroke="#111" stroke-width="0.6"/>
<line x1="101.80" y1="276.25" x2="103.80" y2="276.25" stroke="#111" stroke-width="0.6"/>
<line x1="101.80" y1="285.40" x2="103.80" y2="285.40" stroke="#111" stroke-width="0.6"/>
<line x1="110.20" y1="265.40" x2="110.20" y2="283.40" stroke="#111" stroke-width="0.6"/>
<line x1="109.20" y1="265.40" x2="111.20" y2="265.40" stroke="#111" stroke-width="0.6"/>
<line x1="109.20" y1="283.40" x2="111.20" y2="283.40" stroke="#111" stroke-width="0.6"/>
<line x1="123.30" y1="251.20" x2="123.30" y2="271.10" stroke="#111" stroke-width="0.6"/>
<line x1="122.30" y1="251.20" x2="124.30" y2="251.20" stroke="#111" stroke-width="0.6"/>
<line x1="122.30" y1="271.10" x2="124.30" y2="271.10" stroke="#111" stroke-width="0.6"/>
<polygon points="67.47,289.76 70.72,289.76 69.10,292.36" fill="#000"/>
<polygon points="74.88,287.86 78.12,287.86 76.50,290.46" fill="#000"/>
<polygon points="80.58,284.66 83.83,284.66 82.20,287.26" fill="#000"/>
<polygon points="86.38,282.61 89.62,282.61 88.00,285.21" fill="#000"/>
<polygon points="90.97,282.16 94.22,282.16 92.60,284.76" fill="#000"/>
<polygon points="96.78,279.66 100.03,279.66 98.40,282.26" fill="#000"/>
<polygon points="101.17,278.06 104.42,278.06 102.80,280.66" fill="#000"/>
<polygon points="108.58,270.86 111.83,270.86 110.20,273.46" fill="#000"/>
<polygon points="121.67,258.26 124.92,258.26 123.30,260.86" fill="#000"/>
<polyline points="69.10,290.90 76.50,289.00 82.20,288.00 88.00,286.25 92.60,285.40 98.40,285.00 102.80,282.50 110.20,280.10 123.30,266.20" fill="none" stroke="#111" stroke-width="0.8" stroke-linejoin="round"/>
<polygon points="69.10,289.27 70.72,290.90 69.10,292.52 67.47,290.90" fill="#000"/>
<polygon points="76.50,287.38 78.12,289.00 76.50,290.62 74.88,289.00" fill="#000"/>
<polygon points="82.20,286.38 83.83,288.00 82.20,289.62 80.58,288.00" fill="#000"/>
<polygon points="88.00,284.62 89.62,286.25 88.00,287.88 86.38,286.25" fill="#000"/>
<polygon points="92.60,283.77 94.22,285.40 92.60,287.02 90.97,285.40" fill="#000"/>
<polygon points="98.40,283.38 100.03,285.00 98.40,286.62 96.78,285.00" fill="#000"/>
<polygon points="102.80,280.88 104.42,282.50 102.80,284.12 101.17,282.50" fill="#000"/>
<polygon points="110.20,278.48 111.83,280.10 110.20,281.73 108.58,280.10" fill="#000"/>
<polygon points="123.30,264.57 124.92,266.20 123.30,267.82 121.67,266.20" fill="#000"/>
<polyline points="69.10,290.90 76.50,289.00 82.20,289.00 88.00,292.10 92.60,291.80 98.40,292.30 102.80,292.30 110.20,292.50 123.30,292.50" fill="none" stroke="#111" stroke-width="0.8" stroke-linejoin="round"/>
<circle cx="69.10" cy="290.90" r="1.30" fill="#000"/>
<circle cx="76.50" cy="289.00" r="1.30" fill="#000"/>
<circle cx="82.20" cy="289.00" r="1.30" fill="#000"/>
<circle cx="88.00" cy="292.10" r="1.30" fill="#000"/>
<circle cx="92.60" cy="291.80" r="1.30" fill="#000"/>
<circle cx="98.40" cy="292.30" r="1.30" fill="#000"/>
<circle cx="102.80" cy="292.30" r="1.30" fill="#000"/>
<circle cx="110.20" cy="292.50" r="1.30" fill="#000"/>
<circle cx="123.30" cy="292.50" r="1.30" fill="#000"/>
<line x1="168.20" y1="239.45" x2="168.20" y2="297.20" stroke="#1a1a1a" stroke-width="0.9"/>
<line x1="168.20" y1="297.20" x2="256.00" y2="297.20" stroke="#1a1a1a" stroke-width="0.9"/>
<line x1="166.40" y1="239.75" x2="168.20" y2="239.75" stroke="#333" stroke-width="0.6"/>
<text x="166.30" y="241.25" font-size="4.6" font-weight="bold" text-anchor="end" fill="#222" stroke="#222" stroke-width="0.18">2,000</text>
<line x1="166.40" y1="254.10" x2="168.20" y2="254.10" stroke="#333" stroke-width="0.6"/>
<text x="166.30" y="255.60" font-size="4.6" font-weight="bold" text-anchor="end" fill="#222" stroke="#222" stroke-width="0.18">1,500</text>
<line x1="166.40" y1="268.50" x2="168.20" y2="268.50" stroke="#333" stroke-width="0.6"/>
<text x="166.30" y="270.00" font-size="4.6" font-weight="bold" text-anchor="end" fill="#222" stroke="#222" stroke-width="0.18">1,000</text>
<line x1="166.40" y1="282.90" x2="168.20" y2="282.90" stroke="#333" stroke-width="0.6"/>
<text x="166.30" y="284.40" font-size="4.6" font-weight="bold" text-anchor="end" fill="#222" stroke="#222" stroke-width="0.18">500</text>
<line x1="166.40" y1="297.20" x2="168.20" y2="297.20" stroke="#333" stroke-width="0.6"/>
<text x="166.30" y="298.70" font-size="4.6" font-weight="bold" text-anchor="end" fill="#222" stroke="#222" stroke-width="0.18">0</text>
<line x1="168.40" y1="297.20" x2="168.40" y2="298.80" stroke="#333" stroke-width="0.6"/>
<text x="168.40" y="304.40" font-size="4.6" font-weight="bold" text-anchor="middle" fill="#222" stroke="#222" stroke-width="0.18">0</text>
<line x1="189.92" y1="297.20" x2="189.92" y2="298.80" stroke="#333" stroke-width="0.6"/>
<text x="189.92" y="304.40" font-size="4.6" font-weight="bold" text-anchor="middle" fill="#222" stroke="#222" stroke-width="0.18">20</text>
<line x1="211.44" y1="297.20" x2="211.44" y2="298.80" stroke="#333" stroke-width="0.6"/>
<text x="211.44" y="304.40" font-size="4.6" font-weight="bold" text-anchor="middle" fill="#222" stroke="#222" stroke-width="0.18">40</text>
<line x1="232.96" y1="297.20" x2="232.96" y2="298.80" stroke="#333" stroke-width="0.6"/>
<text x="232.96" y="304.40" font-size="4.6" font-weight="bold" text-anchor="middle" fill="#222" stroke="#222" stroke-width="0.18">60</text>
<line x1="254.48" y1="297.20" x2="254.48" y2="298.80" stroke="#333" stroke-width="0.6"/>
<text x="254.48" y="304.40" font-size="4.6" font-weight="bold" text-anchor="middle" fill="#222" stroke="#222" stroke-width="0.18">80</text>
<text x="198.10" y="232.00" font-size="5.5" font-weight="bold" textLength="14.40" lengthAdjust="spacingAndGlyphs" fill="#111" stroke="#111" stroke-width="0.18">MCF7</text>
<line x1="172.80" y1="244.00" x2="178.40" y2="244.00" stroke="#111" stroke-width="0.6"/>
<polygon points="174.16,242.99 177.04,242.99 175.60,245.29" fill="#000"/>
<text x="182.20" y="245.30" font-size="3.9" textLength="17.60" lengthAdjust="spacingAndGlyphs" fill="#3a3a3a" stroke="#3a3a3a" stroke-width="0.06">ADC vehicle</text>
<line x1="172.80" y1="249.75" x2="178.40" y2="249.75" stroke="#111" stroke-width="0.6"/>
<circle cx="175.60" cy="249.75" r="1.15" fill="#000"/>
<text x="182.20" y="251.05" font-size="3.9" textLength="10.10" lengthAdjust="spacingAndGlyphs" fill="#3a3a3a" stroke="#3a3a3a" stroke-width="0.06">W0101</text>
<text x="170.50" y="274.90" font-size="3.7" textLength="6.80" lengthAdjust="spacingAndGlyphs" fill="#3a3a3a" stroke="#3a3a3a" stroke-width="0.06">n = 6</text>
<text x="170.50" y="279.00" font-size="3.7" textLength="29.10" lengthAdjust="spacingAndGlyphs" fill="#3a3a3a" stroke="#3a3a3a" stroke-width="0.06">3 mg/kg single dose</text>
<text transform="translate(150.15,268.75) rotate(-90)" x="0" y="0" font-size="4.3" font-weight="bold" text-anchor="middle" textLength="54.90" lengthAdjust="spacingAndGlyphs" fill="#111" stroke="#111" stroke-width="0.18">Mean tumor volume (mm<tspan font-size="2.8" dy="-1.2">3</tspan><tspan dy="1.2">)</tspan></text>
<text x="200.80" y="310.30" font-size="4.4" font-weight="bold" textLength="23.80" lengthAdjust="spacingAndGlyphs" fill="#111" stroke="#111" stroke-width="0.18">Time (days)</text>
<polyline points="183.10,293.30 189.20,293.20 192.00,293.00 196.20,292.30 199.60,291.20 205.50,287.00 209.20,283.50 212.70,280.00 216.50,275.80 220.40,271.50 223.90,266.20 227.00,262.30 230.40,255.80" fill="none" stroke="#111" stroke-width="0.8" stroke-linejoin="round"/>
<line x1="205.50" y1="284.20" x2="205.50" y2="287.00" stroke="#111" stroke-width="0.6"/>
<line x1="204.50" y1="284.20" x2="206.50" y2="284.20" stroke="#111" stroke-width="0.6"/>
<line x1="209.20" y1="281.50" x2="209.20" y2="283.50" stroke="#111" stroke-width="0.6"/>
<line x1="208.20" y1="281.50" x2="210.20" y2="281.50" stroke="#111" stroke-width="0.6"/>
<line x1="212.70" y1="273.80" x2="212.70" y2="280.00" stroke="#111" stroke-width="0.6"/>
<line x1="211.70" y1="273.80" x2="213.70" y2="273.80" stroke="#111" stroke-width="0.6"/>
<line x1="216.50" y1="270.80" x2="216.50" y2="275.80" stroke="#111" stroke-width="0.6"/>
<line x1="215.50" y1="270.80" x2="217.50" y2="270.80" stroke="#111" stroke-width="0.6"/>
<line x1="220.40" y1="263.00" x2="220.40" y2="271.50" stroke="#111" stroke-width="0.6"/>
<line x1="219.40" y1="263.00" x2="221.40" y2="263.00" stroke="#111" stroke-width="0.6"/>
<line x1="223.90" y1="256.20" x2="223.90" y2="266.20" stroke="#111" stroke-width="0.6"/>
<line x1="222.90" y1="256.20" x2="224.90" y2="256.20" stroke="#111" stroke-width="0.6"/>
<line x1="227.00" y1="249.60" x2="227.00" y2="262.30" stroke="#111" stroke-width="0.6"/>
<line x1="226.00" y1="249.60" x2="228.00" y2="249.60" stroke="#111" stroke-width="0.6"/>
<line x1="230.40" y1="242.30" x2="230.40" y2="255.80" stroke="#111" stroke-width="0.6"/>
<line x1="229.40" y1="242.30" x2="231.40" y2="242.30" stroke="#111" stroke-width="0.6"/>
<polygon points="181.47,292.16 184.72,292.16 183.10,294.76" fill="#000"/>
<polygon points="187.57,292.06 190.82,292.06 189.20,294.66" fill="#000"/>
<polygon points="190.38,291.86 193.62,291.86 192.00,294.46" fill="#000"/>
<polygon points="194.57,291.16 197.82,291.16 196.20,293.76" fill="#000"/>
<polygon points="197.97,290.06 201.22,290.06 199.60,292.66" fill="#000"/>
<polygon points="203.88,285.86 207.12,285.86 205.50,288.46" fill="#000"/>
<polygon points="207.57,282.36 210.82,282.36 209.20,284.96" fill="#000"/>
<polygon points="211.07,278.86 214.32,278.86 212.70,281.46" fill="#000"/>
<polygon points="214.88,274.66 218.12,274.66 216.50,277.26" fill="#000"/>
<polygon points="218.78,270.36 222.03,270.36 220.40,272.96" fill="#000"/>
<polygon points="222.28,265.06 225.53,265.06 223.90,267.66" fill="#000"/>
<polygon points="225.38,261.16 228.62,261.16 227.00,263.76" fill="#000"/>
<polygon points="228.78,254.66 232.03,254.66 230.40,257.26" fill="#000"/>
<polyline points="183.10,293.30 189.20,293.50 192.00,293.60 196.20,295.30 200.00,295.80 204.00,295.80 208.00,295.80 212.00,295.80 216.00,295.80 220.00,295.80 223.50,295.80 227.00,295.80 230.50,295.80 234.00,295.80 238.00,295.80 242.00,295.80 246.00,295.80 250.50,294.50 254.00,293.50" fill="none" stroke="#111" stroke-width="0.8" stroke-linejoin="round"/>
<line x1="246.00" y1="293.00" x2="246.00" y2="294.50" stroke="#111" stroke-width="0.6"/>
<line x1="245.00" y1="293.00" x2="247.00" y2="293.00" stroke="#111" stroke-width="0.6"/>
<line x1="245.00" y1="294.50" x2="247.00" y2="294.50" stroke="#111" stroke-width="0.6"/>
<line x1="250.50" y1="291.00" x2="250.50" y2="293.50" stroke="#111" stroke-width="0.6"/>
<line x1="249.50" y1="291.00" x2="251.50" y2="291.00" stroke="#111" stroke-width="0.6"/>
<line x1="249.50" y1="293.50" x2="251.50" y2="293.50" stroke="#111" stroke-width="0.6"/>
<circle cx="183.10" cy="293.30" r="1.30" fill="#000"/>
<circle cx="189.20" cy="293.50" r="1.30" fill="#000"/>
<circle cx="192.00" cy="293.60" r="1.30" fill="#000"/>
<circle cx="196.20" cy="295.30" r="1.30" fill="#000"/>
<circle cx="200.00" cy="295.80" r="1.30" fill="#000"/>
<circle cx="204.00" cy="295.80" r="1.30" fill="#000"/>
<circle cx="208.00" cy="295.80" r="1.30" fill="#000"/>
<circle cx="212.00" cy="295.80" r="1.30" fill="#000"/>
<circle cx="216.00" cy="295.80" r="1.30" fill="#000"/>
<circle cx="220.00" cy="295.80" r="1.30" fill="#000"/>
<circle cx="223.50" cy="295.80" r="1.30" fill="#000"/>
<circle cx="227.00" cy="295.80" r="1.30" fill="#000"/>
<circle cx="230.50" cy="295.80" r="1.30" fill="#000"/>
<circle cx="234.00" cy="295.80" r="1.30" fill="#000"/>
<circle cx="238.00" cy="295.80" r="1.30" fill="#000"/>
<circle cx="242.00" cy="295.80" r="1.30" fill="#000"/>
<circle cx="246.00" cy="295.80" r="1.30" fill="#000"/>
<circle cx="250.50" cy="294.50" r="1.30" fill="#000"/>
<circle cx="254.00" cy="293.50" r="1.30" fill="#000"/>
<line x1="314.90" y1="83.20" x2="314.90" y2="136.60" stroke="#1a1a1a" stroke-width="0.9"/>
<line x1="314.90" y1="136.60" x2="396.60" y2="136.60" stroke="#1a1a1a" stroke-width="0.9"/>
<line x1="313.10" y1="83.50" x2="314.90" y2="83.50" stroke="#333" stroke-width="0.6"/>
<text x="313.00" y="85.00" font-size="3.4" font-weight="bold" text-anchor="end" fill="#222" stroke="#222" stroke-width="0.18">1,000</text>
<line x1="313.10" y1="94.12" x2="314.90" y2="94.12" stroke="#333" stroke-width="0.6"/>
<text x="313.00" y="95.62" font-size="3.4" font-weight="bold" text-anchor="end" fill="#222" stroke="#222" stroke-width="0.18">800</text>
<line x1="313.10" y1="104.74" x2="314.90" y2="104.74" stroke="#333" stroke-width="0.6"/>
<text x="313.00" y="106.24" font-size="3.4" font-weight="bold" text-anchor="end" fill="#222" stroke="#222" stroke-width="0.18">600</text>
<line x1="313.10" y1="115.36" x2="314.90" y2="115.36" stroke="#333" stroke-width="0.6"/>
<text x="313.00" y="116.86" font-size="3.4" font-weight="bold" text-anchor="end" fill="#222" stroke="#222" stroke-width="0.18">400</text>
<line x1="313.10" y1="125.98" x2="314.90" y2="125.98" stroke="#333" stroke-width="0.6"/>
<text x="313.00" y="127.48" font-size="3.4" font-weight="bold" text-anchor="end" fill="#222" stroke="#222" stroke-width="0.18">200</text>
<line x1="313.10" y1="136.60" x2="314.90" y2="136.60" stroke="#333" stroke-width="0.6"/>
<text x="313.00" y="138.10" font-size="3.4" font-weight="bold" text-anchor="end" fill="#222" stroke="#222" stroke-width="0.18">0</text>
<line x1="314.90" y1="136.60" x2="314.90" y2="138.20" stroke="#333" stroke-width="0.6"/>
<text x="314.90" y="142.30" font-size="3.4" font-weight="bold" text-anchor="middle" fill="#222" stroke="#222" stroke-width="0.18">0</text>
<line x1="326.50" y1="136.60" x2="326.50" y2="138.20" stroke="#333" stroke-width="0.6"/>
<text x="326.50" y="142.30" font-size="3.4" font-weight="bold" text-anchor="middle" fill="#222" stroke="#222" stroke-width="0.18">5</text>
<line x1="338.10" y1="136.60" x2="338.10" y2="138.20" stroke="#333" stroke-width="0.6"/>
<text x="338.10" y="142.30" font-size="3.4" font-weight="bold" text-anchor="middle" fill="#222" stroke="#222" stroke-width="0.18">10</text>
<line x1="349.70" y1="136.60" x2="349.70" y2="138.20" stroke="#333" stroke-width="0.6"/>
<text x="349.70" y="142.30" font-size="3.4" font-weight="bold" text-anchor="middle" fill="#222" stroke="#222" stroke-width="0.18">15</text>
<line x1="361.30" y1="136.60" x2="361.30" y2="138.20" stroke="#333" stroke-width="0.6"/>
<text x="361.30" y="142.30" font-size="3.4" font-weight="bold" text-anchor="middle" fill="#222" stroke="#222" stroke-width="0.18">20</text>
<line x1="372.90" y1="136.60" x2="372.90" y2="138.20" stroke="#333" stroke-width="0.6"/>
<text x="372.90" y="142.30" font-size="3.4" font-weight="bold" text-anchor="middle" fill="#222" stroke="#222" stroke-width="0.18">25</text>
<line x1="384.50" y1="136.60" x2="384.50" y2="138.20" stroke="#333" stroke-width="0.6"/>
<text x="384.50" y="142.30" font-size="3.4" font-weight="bold" text-anchor="middle" fill="#222" stroke="#222" stroke-width="0.18">30</text>
<line x1="396.10" y1="136.60" x2="396.10" y2="138.20" stroke="#333" stroke-width="0.6"/>
<text x="396.10" y="142.30" font-size="3.4" font-weight="bold" text-anchor="middle" fill="#222" stroke="#222" stroke-width="0.18">35</text>
<text x="342.75" y="74.20" font-size="5.5" font-weight="bold" textLength="27.85" lengthAdjust="spacingAndGlyphs" fill="#111" stroke="#111" stroke-width="0.18">NCI-H2122</text>
<line x1="317.80" y1="85.40" x2="323.40" y2="85.40" stroke="#111" stroke-width="0.6"/>
<polygon points="319.16,84.39 322.04,84.39 320.60,86.69" fill="#000"/>
<text x="325.00" y="86.70" font-size="3.7" textLength="18.75" lengthAdjust="spacingAndGlyphs" fill="#3a3a3a" stroke="#3a3a3a" stroke-width="0.06">ADC vehicle</text>
<line x1="317.80" y1="90.75" x2="323.40" y2="90.75" stroke="#111" stroke-width="0.6"/>
<polygon points="320.60,89.31 322.04,90.75 320.60,92.19 319.16,90.75" fill="#000"/>
<text x="325.00" y="92.05" font-size="3.7" textLength="30.00" lengthAdjust="spacingAndGlyphs" fill="#3a3a3a" stroke="#3a3a3a" stroke-width="0.06">Isotype control ADC</text>
<line x1="317.80" y1="96.00" x2="323.40" y2="96.00" stroke="#111" stroke-width="0.6"/>
<circle cx="320.60" cy="96.00" r="1.15" fill="#000"/>
<text x="325.00" y="97.30" font-size="3.7" textLength="10.00" lengthAdjust="spacingAndGlyphs" fill="#3a3a3a" stroke="#3a3a3a" stroke-width="0.06">W0101</text>
<text x="316.85" y="107.30" font-size="3.7" textLength="6.80" lengthAdjust="spacingAndGlyphs" fill="#3a3a3a" stroke="#3a3a3a" stroke-width="0.06">n = 5</text>
<text x="316.85" y="111.40" font-size="3.7" textLength="20.25" lengthAdjust="spacingAndGlyphs" fill="#3a3a3a" stroke="#3a3a3a" stroke-width="0.06">3 mg/kg Q4d6</text>
<text transform="translate(299.85,109.90) rotate(-90)" x="0" y="0" font-size="4.3" font-weight="bold" text-anchor="middle" textLength="54.60" lengthAdjust="spacingAndGlyphs" fill="#111" stroke="#111" stroke-width="0.18">Mean tumor volume (mm<tspan font-size="2.8" dy="-1.2">3</tspan><tspan dy="1.2">)</tspan></text>
<text x="342.50" y="148.80" font-size="4.4" font-weight="bold" textLength="24.90" lengthAdjust="spacingAndGlyphs" fill="#111" stroke="#111" stroke-width="0.18">Time (days)</text>
<polyline points="349.50,128.00 351.70,125.40 358.60,114.60 368.20,105.50 375.10,100.70 384.30,92.70" fill="none" stroke="#111" stroke-width="0.8" stroke-linejoin="round"/>
<line x1="358.60" y1="111.40" x2="358.60" y2="114.60" stroke="#111" stroke-width="0.6"/>
<line x1="357.60" y1="111.40" x2="359.60" y2="111.40" stroke="#111" stroke-width="0.6"/>
<line x1="368.20" y1="103.90" x2="368.20" y2="105.50" stroke="#111" stroke-width="0.6"/>
<line x1="367.20" y1="103.90" x2="369.20" y2="103.90" stroke="#111" stroke-width="0.6"/>
<line x1="375.10" y1="94.30" x2="375.10" y2="100.70" stroke="#111" stroke-width="0.6"/>
<line x1="374.10" y1="94.30" x2="376.10" y2="94.30" stroke="#111" stroke-width="0.6"/>
<line x1="384.30" y1="88.50" x2="384.30" y2="92.70" stroke="#111" stroke-width="0.6"/>
<line x1="383.30" y1="88.50" x2="385.30" y2="88.50" stroke="#111" stroke-width="0.6"/>
<polygon points="347.88,126.86 351.12,126.86 349.50,129.46" fill="#000"/>
<polygon points="350.07,124.26 353.32,124.26 351.70,126.86" fill="#000"/>
<polygon points="356.98,113.46 360.23,113.46 358.60,116.06" fill="#000"/>
<polygon points="366.57,104.36 369.82,104.36 368.20,106.96" fill="#000"/>
<polygon points="373.48,99.56 376.73,99.56 375.10,102.16" fill="#000"/>
<polygon points="382.68,91.56 385.93,91.56 384.30,94.16" fill="#000"/>
<polyline points="349.50,128.00 351.70,125.40 358.60,121.00 368.20,113.00 375.10,105.00 384.30,104.20" fill="none" stroke="#111" stroke-width="0.8" stroke-linejoin="round"/>
<line x1="368.20" y1="110.60" x2="368.20" y2="113.00" stroke="#111" stroke-width="0.6"/>
<line x1="367.20" y1="110.60" x2="369.20" y2="110.60" stroke="#111" stroke-width="0.6"/>
<line x1="375.10" y1="102.50" x2="375.10" y2="105.00" stroke="#111" stroke-width="0.6"/>
<line x1="374.10" y1="102.50" x2="376.10" y2="102.50" stroke="#111" stroke-width="0.6"/>
<line x1="384.30" y1="101.00" x2="384.30" y2="104.20" stroke="#111" stroke-width="0.6"/>
<line x1="383.30" y1="101.00" x2="385.30" y2="101.00" stroke="#111" stroke-width="0.6"/>
<polygon points="349.50,126.38 351.12,128.00 349.50,129.62 347.88,128.00" fill="#000"/>
<polygon points="351.70,123.78 353.32,125.40 351.70,127.03 350.07,125.40" fill="#000"/>
<polygon points="358.60,119.38 360.23,121.00 358.60,122.62 356.98,121.00" fill="#000"/>
<polygon points="368.20,111.38 369.82,113.00 368.20,114.62 366.57,113.00" fill="#000"/>
<polygon points="375.10,103.38 376.73,105.00 375.10,106.62 373.48,105.00" fill="#000"/>
<polygon points="384.30,102.58 385.93,104.20 384.30,105.83 382.68,104.20" fill="#000"/>
<polyline points="349.50,128.00 351.70,125.40 358.60,119.50 368.20,120.60 375.10,121.00 384.30,123.50" fill="none" stroke="#111" stroke-width="0.8" stroke-linejoin="round"/>
<line x1="368.20" y1="117.00" x2="368.20" y2="120.60" stroke="#111" stroke-width="0.6"/>
<line x1="367.20" y1="117.00" x2="369.20" y2="117.00" stroke="#111" stroke-width="0.6"/>
<line x1="375.10" y1="116.70" x2="375.10" y2="121.00" stroke="#111" stroke-width="0.6"/>
<line x1="374.10" y1="116.70" x2="376.10" y2="116.70" stroke="#111" stroke-width="0.6"/>
<line x1="384.30" y1="120.00" x2="384.30" y2="123.50" stroke="#111" stroke-width="0.6"/>
<line x1="383.30" y1="120.00" x2="385.30" y2="120.00" stroke="#111" stroke-width="0.6"/>
<circle cx="349.50" cy="128.00" r="1.30" fill="#000"/>
<circle cx="351.70" cy="125.40" r="1.30" fill="#000"/>
<circle cx="358.60" cy="119.50" r="1.30" fill="#000"/>
<circle cx="368.20" cy="120.60" r="1.30" fill="#000"/>
<circle cx="375.10" cy="121.00" r="1.30" fill="#000"/>
<circle cx="384.30" cy="123.50" r="1.30" fill="#000"/>
<line x1="432.10" y1="80.45" x2="432.10" y2="135.60" stroke="#1a1a1a" stroke-width="0.9"/>
<line x1="432.10" y1="135.60" x2="515.40" y2="135.60" stroke="#1a1a1a" stroke-width="0.9"/>
<line x1="430.30" y1="80.75" x2="432.10" y2="80.75" stroke="#333" stroke-width="0.6"/>
<text x="430.20" y="82.25" font-size="3.4" font-weight="bold" text-anchor="end" fill="#222" stroke="#222" stroke-width="0.18">500</text>
<line x1="430.30" y1="91.72" x2="432.10" y2="91.72" stroke="#333" stroke-width="0.6"/>
<text x="430.20" y="93.22" font-size="3.4" font-weight="bold" text-anchor="end" fill="#222" stroke="#222" stroke-width="0.18">400</text>
<line x1="430.30" y1="102.69" x2="432.10" y2="102.69" stroke="#333" stroke-width="0.6"/>
<text x="430.20" y="104.19" font-size="3.4" font-weight="bold" text-anchor="end" fill="#222" stroke="#222" stroke-width="0.18">300</text>
<line x1="430.30" y1="113.66" x2="432.10" y2="113.66" stroke="#333" stroke-width="0.6"/>
<text x="430.20" y="115.16" font-size="3.4" font-weight="bold" text-anchor="end" fill="#222" stroke="#222" stroke-width="0.18">200</text>
<line x1="430.30" y1="124.63" x2="432.10" y2="124.63" stroke="#333" stroke-width="0.6"/>
<text x="430.20" y="126.13" font-size="3.4" font-weight="bold" text-anchor="end" fill="#222" stroke="#222" stroke-width="0.18">100</text>
<line x1="430.30" y1="135.60" x2="432.10" y2="135.60" stroke="#333" stroke-width="0.6"/>
<text x="430.20" y="137.10" font-size="3.4" font-weight="bold" text-anchor="end" fill="#222" stroke="#222" stroke-width="0.18">0</text>
<line x1="432.00" y1="135.60" x2="432.00" y2="137.20" stroke="#333" stroke-width="0.6"/>
<text x="432.00" y="141.30" font-size="3.4" font-weight="bold" text-anchor="middle" fill="#222" stroke="#222" stroke-width="0.18">0</text>
<line x1="448.60" y1="135.60" x2="448.60" y2="137.20" stroke="#333" stroke-width="0.6"/>
<text x="448.60" y="141.30" font-size="3.4" font-weight="bold" text-anchor="middle" fill="#222" stroke="#222" stroke-width="0.18">10</text>
<line x1="465.20" y1="135.60" x2="465.20" y2="137.20" stroke="#333" stroke-width="0.6"/>
<text x="465.20" y="141.30" font-size="3.4" font-weight="bold" text-anchor="middle" fill="#222" stroke="#222" stroke-width="0.18">20</text>
<line x1="481.80" y1="135.60" x2="481.80" y2="137.20" stroke="#333" stroke-width="0.6"/>
<text x="481.80" y="141.30" font-size="3.4" font-weight="bold" text-anchor="middle" fill="#222" stroke="#222" stroke-width="0.18">30</text>
<line x1="498.40" y1="135.60" x2="498.40" y2="137.20" stroke="#333" stroke-width="0.6"/>
<text x="498.40" y="141.30" font-size="3.4" font-weight="bold" text-anchor="middle" fill="#222" stroke="#222" stroke-width="0.18">40</text>
<line x1="515.00" y1="135.60" x2="515.00" y2="137.20" stroke="#333" stroke-width="0.6"/>
<text x="515.00" y="141.30" font-size="3.4" font-weight="bold" text-anchor="middle" fill="#222" stroke="#222" stroke-width="0.18">50</text>
<text x="465.00" y="74.20" font-size="5.5" font-weight="bold" textLength="16.90" lengthAdjust="spacingAndGlyphs" fill="#111" stroke="#111" stroke-width="0.18">CaoV3</text>
<line x1="434.80" y1="83.25" x2="440.40" y2="83.25" stroke="#111" stroke-width="0.6"/>
<polygon points="436.16,82.24 439.04,82.24 437.60,84.54" fill="#000"/>
<text x="444.75" y="84.55" font-size="3.7" textLength="17.75" lengthAdjust="spacingAndGlyphs" fill="#3a3a3a" stroke="#3a3a3a" stroke-width="0.06">ADC vehicle</text>
<line x1="434.80" y1="88.50" x2="440.40" y2="88.50" stroke="#111" stroke-width="0.6"/>
<polygon points="437.60,87.06 439.04,88.50 437.60,89.94 436.16,88.50" fill="#000"/>
<text x="444.75" y="89.80" font-size="3.7" textLength="29.00" lengthAdjust="spacingAndGlyphs" fill="#3a3a3a" stroke="#3a3a3a" stroke-width="0.06">Isotype control ADC</text>
<line x1="434.80" y1="94.10" x2="440.40" y2="94.10" stroke="#111" stroke-width="0.6"/>
<circle cx="437.60" cy="94.10" r="1.15" fill="#000"/>
<text x="444.75" y="95.40" font-size="3.7" textLength="9.25" lengthAdjust="spacingAndGlyphs" fill="#3a3a3a" stroke="#3a3a3a" stroke-width="0.06">W0101</text>
<text x="435.85" y="107.20" font-size="3.7" textLength="6.80" lengthAdjust="spacingAndGlyphs" fill="#3a3a3a" stroke="#3a3a3a" stroke-width="0.06">n = 6</text>
<text x="435.85" y="111.30" font-size="3.7" textLength="20.00" lengthAdjust="spacingAndGlyphs" fill="#3a3a3a" stroke="#3a3a3a" stroke-width="0.06">3 mg/kg Q4d6</text>
<text transform="translate(418.95,107.95) rotate(-90)" x="0" y="0" font-size="4.3" font-weight="bold" text-anchor="middle" textLength="55.10" lengthAdjust="spacingAndGlyphs" fill="#111" stroke="#111" stroke-width="0.18">Mean tumor volume (mm<tspan font-size="2.8" dy="-1.2">3</tspan><tspan dy="1.2">)</tspan></text>
<text x="460.20" y="147.00" font-size="4.4" font-weight="bold" textLength="25.60" lengthAdjust="spacingAndGlyphs" fill="#111" stroke="#111" stroke-width="0.18">Time (days)</text>
<polyline points="463.30,123.50 480.00,111.70 491.50,107.90 497.70,104.80 504.40,105.40 509.60,97.90" fill="none" stroke="#111" stroke-width="0.8" stroke-linejoin="round"/>
<line x1="480.00" y1="106.90" x2="480.00" y2="111.70" stroke="#111" stroke-width="0.6"/>
<line x1="479.00" y1="106.90" x2="481.00" y2="106.90" stroke="#111" stroke-width="0.6"/>
<line x1="491.50" y1="102.70" x2="491.50" y2="107.90" stroke="#111" stroke-width="0.6"/>
<line x1="490.50" y1="102.70" x2="492.50" y2="102.70" stroke="#111" stroke-width="0.6"/>
<line x1="497.70" y1="100.00" x2="497.70" y2="104.80" stroke="#111" stroke-width="0.6"/>
<line x1="496.70" y1="100.00" x2="498.70" y2="100.00" stroke="#111" stroke-width="0.6"/>
<line x1="504.40" y1="102.00" x2="504.40" y2="105.40" stroke="#111" stroke-width="0.6"/>
<line x1="503.40" y1="102.00" x2="505.40" y2="102.00" stroke="#111" stroke-width="0.6"/>
<line x1="509.60" y1="90.80" x2="509.60" y2="97.90" stroke="#111" stroke-width="0.6"/>
<line x1="508.60" y1="90.80" x2="510.60" y2="90.80" stroke="#111" stroke-width="0.6"/>
<polygon points="461.68,122.36 464.93,122.36 463.30,124.96" fill="#000"/>
<polygon points="478.38,110.56 481.62,110.56 480.00,113.16" fill="#000"/>
<polygon points="489.88,106.76 493.12,106.76 491.50,109.36" fill="#000"/>
<polygon points="496.07,103.66 499.32,103.66 497.70,106.26" fill="#000"/>
<polygon points="502.77,104.26 506.02,104.26 504.40,106.86" fill="#000"/>
<polygon points="507.98,96.76 511.23,96.76 509.60,99.36" fill="#000"/>
<polyline points="463.30,123.50 480.00,116.25 491.50,108.30 497.70,104.80 504.40,105.40 509.60,99.60" fill="none" stroke="#111" stroke-width="0.8" stroke-linejoin="round"/>
<polygon points="463.30,121.88 464.93,123.50 463.30,125.12 461.68,123.50" fill="#000"/>
<polygon points="480.00,114.62 481.62,116.25 480.00,117.88 478.38,116.25" fill="#000"/>
<polygon points="491.50,106.67 493.12,108.30 491.50,109.92 489.88,108.30" fill="#000"/>
<polygon points="497.70,103.17 499.32,104.80 497.70,106.42 496.07,104.80" fill="#000"/>
<polygon points="504.40,103.78 506.02,105.40 504.40,107.03 502.77,105.40" fill="#000"/>
<polygon points="509.60,97.97 511.23,99.60 509.60,101.22 507.98,99.60" fill="#000"/>
<polyline points="463.30,123.50 480.00,123.10 491.50,126.00 497.70,126.70 504.40,128.75 509.60,127.70" fill="none" stroke="#111" stroke-width="0.8" stroke-linejoin="round"/>
<line x1="480.00" y1="120.50" x2="480.00" y2="123.10" stroke="#111" stroke-width="0.6"/>
<line x1="479.00" y1="120.50" x2="481.00" y2="120.50" stroke="#111" stroke-width="0.6"/>
<line x1="491.50" y1="123.50" x2="491.50" y2="126.00" stroke="#111" stroke-width="0.6"/>
<line x1="490.50" y1="123.50" x2="492.50" y2="123.50" stroke="#111" stroke-width="0.6"/>
<line x1="497.70" y1="124.00" x2="497.70" y2="126.70" stroke="#111" stroke-width="0.6"/>
<line x1="496.70" y1="124.00" x2="498.70" y2="124.00" stroke="#111" stroke-width="0.6"/>
<line x1="504.40" y1="126.50" x2="504.40" y2="128.75" stroke="#111" stroke-width="0.6"/>
<line x1="503.40" y1="126.50" x2="505.40" y2="126.50" stroke="#111" stroke-width="0.6"/>
<line x1="509.60" y1="124.50" x2="509.60" y2="127.70" stroke="#111" stroke-width="0.6"/>
<line x1="508.60" y1="124.50" x2="510.60" y2="124.50" stroke="#111" stroke-width="0.6"/>
<circle cx="463.30" cy="123.50" r="1.30" fill="#000"/>
<circle cx="480.00" cy="123.10" r="1.30" fill="#000"/>
<circle cx="491.50" cy="126.00" r="1.30" fill="#000"/>
<circle cx="497.70" cy="126.70" r="1.30" fill="#000"/>
<circle cx="504.40" cy="128.75" r="1.30" fill="#000"/>
<circle cx="509.60" cy="127.70" r="1.30" fill="#000"/>
<line x1="318.30" y1="172.45" x2="318.30" y2="226.60" stroke="#1a1a1a" stroke-width="0.9"/>
<line x1="318.30" y1="226.60" x2="400.00" y2="226.60" stroke="#1a1a1a" stroke-width="0.9"/>
<line x1="316.50" y1="172.74" x2="318.30" y2="172.74" stroke="#333" stroke-width="0.6"/>
<text x="316.40" y="174.24" font-size="3.4" font-weight="bold" text-anchor="end" fill="#222" stroke="#222" stroke-width="0.18">2,000</text>
<line x1="316.50" y1="186.20" x2="318.30" y2="186.20" stroke="#333" stroke-width="0.6"/>
<text x="316.40" y="187.70" font-size="3.4" font-weight="bold" text-anchor="end" fill="#222" stroke="#222" stroke-width="0.18">1,500</text>
<line x1="316.50" y1="199.67" x2="318.30" y2="199.67" stroke="#333" stroke-width="0.6"/>
<text x="316.40" y="201.17" font-size="3.4" font-weight="bold" text-anchor="end" fill="#222" stroke="#222" stroke-width="0.18">1,000</text>
<line x1="316.50" y1="213.13" x2="318.30" y2="213.13" stroke="#333" stroke-width="0.6"/>
<text x="316.40" y="214.63" font-size="3.4" font-weight="bold" text-anchor="end" fill="#222" stroke="#222" stroke-width="0.18">500</text>
<line x1="316.50" y1="226.60" x2="318.30" y2="226.60" stroke="#333" stroke-width="0.6"/>
<text x="316.40" y="228.10" font-size="3.4" font-weight="bold" text-anchor="end" fill="#222" stroke="#222" stroke-width="0.18">0</text>
<line x1="318.50" y1="226.60" x2="318.50" y2="228.20" stroke="#333" stroke-width="0.6"/>
<text x="318.50" y="232.30" font-size="3.4" font-weight="bold" text-anchor="middle" fill="#222" stroke="#222" stroke-width="0.18">0</text>
<line x1="338.60" y1="226.60" x2="338.60" y2="228.20" stroke="#333" stroke-width="0.6"/>
<text x="338.60" y="232.30" font-size="3.4" font-weight="bold" text-anchor="middle" fill="#222" stroke="#222" stroke-width="0.18">10</text>
<line x1="358.70" y1="226.60" x2="358.70" y2="228.20" stroke="#333" stroke-width="0.6"/>
<text x="358.70" y="232.30" font-size="3.4" font-weight="bold" text-anchor="middle" fill="#222" stroke="#222" stroke-width="0.18">20</text>
<line x1="378.80" y1="226.60" x2="378.80" y2="228.20" stroke="#333" stroke-width="0.6"/>
<text x="378.80" y="232.30" font-size="3.4" font-weight="bold" text-anchor="middle" fill="#222" stroke="#222" stroke-width="0.18">30</text>
<line x1="398.90" y1="226.60" x2="398.90" y2="228.20" stroke="#333" stroke-width="0.6"/>
<text x="398.90" y="232.30" font-size="3.4" font-weight="bold" text-anchor="middle" fill="#222" stroke="#222" stroke-width="0.18">40</text>
<text x="349.40" y="166.40" font-size="5.5" font-weight="bold" textLength="14.60" lengthAdjust="spacingAndGlyphs" fill="#111" stroke="#111" stroke-width="0.18">SBC5</text>
<line x1="321.70" y1="175.00" x2="327.30" y2="175.00" stroke="#111" stroke-width="0.6"/>
<polygon points="323.06,173.99 325.94,173.99 324.50,176.29" fill="#000"/>
<text x="330.00" y="176.30" font-size="3.7" textLength="18.75" lengthAdjust="spacingAndGlyphs" fill="#3a3a3a" stroke="#3a3a3a" stroke-width="0.06">ADC vehicle</text>
<line x1="321.70" y1="180.00" x2="327.30" y2="180.00" stroke="#111" stroke-width="0.6"/>
<polygon points="324.50,178.56 325.94,180.00 324.50,181.44 323.06,180.00" fill="#000"/>
<text x="330.00" y="181.30" font-size="3.7" textLength="30.00" lengthAdjust="spacingAndGlyphs" fill="#3a3a3a" stroke="#3a3a3a" stroke-width="0.06">Isotype control ADC</text>
<line x1="321.70" y1="185.40" x2="327.30" y2="185.40" stroke="#111" stroke-width="0.6"/>
<circle cx="324.50" cy="185.40" r="1.15" fill="#000"/>
<text x="330.00" y="186.70" font-size="3.7" textLength="10.00" lengthAdjust="spacingAndGlyphs" fill="#3a3a3a" stroke="#3a3a3a" stroke-width="0.06">W0101</text>
<text x="321.85" y="201.10" font-size="3.7" textLength="6.80" lengthAdjust="spacingAndGlyphs" fill="#3a3a3a" stroke="#3a3a3a" stroke-width="0.06">n = 6</text>
<text x="321.85" y="205.20" font-size="3.7" textLength="20.85" lengthAdjust="spacingAndGlyphs" fill="#3a3a3a" stroke="#3a3a3a" stroke-width="0.06">3 mg/kg Q4d6</text>
<text transform="translate(302.75,200.65) rotate(-90)" x="0" y="0" font-size="4.3" font-weight="bold" text-anchor="middle" textLength="54.50" lengthAdjust="spacingAndGlyphs" fill="#111" stroke="#111" stroke-width="0.18">Mean tumor volume (mm<tspan font-size="2.8" dy="-1.2">3</tspan><tspan dy="1.2">)</tspan></text>
<text x="341.70" y="238.50" font-size="4.4" font-weight="bold" textLength="25.80" lengthAdjust="spacingAndGlyphs" fill="#111" stroke="#111" stroke-width="0.18">Time (days)</text>
<polyline points="342.80,222.20 351.10,218.90 358.50,211.50 365.30,205.50 373.10,195.20 379.20,185.20" fill="none" stroke="#111" stroke-width="0.8" stroke-linejoin="round"/>
<line x1="358.50" y1="209.00" x2="358.50" y2="211.50" stroke="#111" stroke-width="0.6"/>
<line x1="357.50" y1="209.00" x2="359.50" y2="209.00" stroke="#111" stroke-width="0.6"/>
<line x1="365.30" y1="203.00" x2="365.30" y2="205.50" stroke="#111" stroke-width="0.6"/>
<line x1="364.30" y1="203.00" x2="366.30" y2="203.00" stroke="#111" stroke-width="0.6"/>
<line x1="373.10" y1="190.50" x2="373.10" y2="195.20" stroke="#111" stroke-width="0.6"/>
<line x1="372.10" y1="190.50" x2="374.10" y2="190.50" stroke="#111" stroke-width="0.6"/>
<line x1="379.20" y1="179.00" x2="379.20" y2="185.20" stroke="#111" stroke-width="0.6"/>
<line x1="378.20" y1="179.00" x2="380.20" y2="179.00" stroke="#111" stroke-width="0.6"/>
<polygon points="341.18,221.06 344.43,221.06 342.80,223.66" fill="#000"/>
<polygon points="349.48,217.76 352.73,217.76 351.10,220.36" fill="#000"/>
<polygon points="356.88,210.36 360.12,210.36 358.50,212.96" fill="#000"/>
<polygon points="363.68,204.36 366.93,204.36 365.30,206.96" fill="#000"/>
<polygon points="371.48,194.06 374.73,194.06 373.10,196.66" fill="#000"/>
<polygon points="377.57,184.06 380.82,184.06 379.20,186.66" fill="#000"/>
<polyline points="342.80,222.20 351.10,218.90 358.50,214.00 365.30,206.50 373.10,197.50 379.20,188.50" fill="none" stroke="#111" stroke-width="0.8" stroke-linejoin="round"/>
<polygon points="342.80,220.57 344.43,222.20 342.80,223.82 341.18,222.20" fill="#000"/>
<polygon points="351.10,217.28 352.73,218.90 351.10,220.53 349.48,218.90" fill="#000"/>
<polygon points="358.50,212.38 360.12,214.00 358.50,215.62 356.88,214.00" fill="#000"/>
<polygon points="365.30,204.88 366.93,206.50 365.30,208.12 363.68,206.50" fill="#000"/>
<polygon points="373.10,195.88 374.73,197.50 373.10,199.12 371.48,197.50" fill="#000"/>
<polygon points="379.20,186.88 380.82,188.50 379.20,190.12 377.57,188.50" fill="#000"/>
<polyline points="342.80,222.20 351.10,218.90 358.50,216.00 365.30,207.00 373.10,199.60 379.20,191.30" fill="none" stroke="#111" stroke-width="0.8" stroke-linejoin="round"/>
<circle cx="342.80" cy="222.20" r="1.30" fill="#000"/>
<circle cx="351.10" cy="218.90" r="1.30" fill="#000"/>
<circle cx="358.50" cy="216.00" r="1.30" fill="#000"/>
<circle cx="365.30" cy="207.00" r="1.30" fill="#000"/>
<circle cx="373.10" cy="199.60" r="1.30" fill="#000"/>
<circle cx="379.20" cy="191.30" r="1.30" fill="#000"/>
<line x1="437.10" y1="171.20" x2="437.10" y2="225.00" stroke="#1a1a1a" stroke-width="0.9"/>
<line x1="437.10" y1="225.00" x2="518.00" y2="225.00" stroke="#1a1a1a" stroke-width="0.9"/>
<line x1="435.30" y1="171.50" x2="437.10" y2="171.50" stroke="#333" stroke-width="0.6"/>
<text x="435.20" y="173.00" font-size="3.4" font-weight="bold" text-anchor="end" fill="#222" stroke="#222" stroke-width="0.18">4,000</text>
<line x1="435.30" y1="184.88" x2="437.10" y2="184.88" stroke="#333" stroke-width="0.6"/>
<text x="435.20" y="186.38" font-size="3.4" font-weight="bold" text-anchor="end" fill="#222" stroke="#222" stroke-width="0.18">3,000</text>
<line x1="435.30" y1="198.25" x2="437.10" y2="198.25" stroke="#333" stroke-width="0.6"/>
<text x="435.20" y="199.75" font-size="3.4" font-weight="bold" text-anchor="end" fill="#222" stroke="#222" stroke-width="0.18">2,000</text>
<line x1="435.30" y1="211.62" x2="437.10" y2="211.62" stroke="#333" stroke-width="0.6"/>
<text x="435.20" y="213.12" font-size="3.4" font-weight="bold" text-anchor="end" fill="#222" stroke="#222" stroke-width="0.18">1,000</text>
<line x1="435.30" y1="225.00" x2="437.10" y2="225.00" stroke="#333" stroke-width="0.6"/>
<text x="435.20" y="226.50" font-size="3.4" font-weight="bold" text-anchor="end" fill="#222" stroke="#222" stroke-width="0.18">0</text>
<line x1="437.50" y1="225.00" x2="437.50" y2="226.60" stroke="#333" stroke-width="0.6"/>
<text x="437.50" y="230.70" font-size="3.4" font-weight="bold" text-anchor="middle" fill="#222" stroke="#222" stroke-width="0.18">0</text>
<line x1="457.60" y1="225.00" x2="457.60" y2="226.60" stroke="#333" stroke-width="0.6"/>
<text x="457.60" y="230.70" font-size="3.4" font-weight="bold" text-anchor="middle" fill="#222" stroke="#222" stroke-width="0.18">5</text>
<line x1="477.70" y1="225.00" x2="477.70" y2="226.60" stroke="#333" stroke-width="0.6"/>
<text x="477.70" y="230.70" font-size="3.4" font-weight="bold" text-anchor="middle" fill="#222" stroke="#222" stroke-width="0.18">10</text>
<line x1="497.80" y1="225.00" x2="497.80" y2="226.60" stroke="#333" stroke-width="0.6"/>
<text x="497.80" y="230.70" font-size="3.4" font-weight="bold" text-anchor="middle" fill="#222" stroke="#222" stroke-width="0.18">15</text>
<line x1="517.90" y1="225.00" x2="517.90" y2="226.60" stroke="#333" stroke-width="0.6"/>
<text x="517.90" y="230.70" font-size="3.4" font-weight="bold" text-anchor="middle" fill="#222" stroke="#222" stroke-width="0.18">20</text>
<text x="464.00" y="164.70" font-size="5.5" font-weight="bold" textLength="17.90" lengthAdjust="spacingAndGlyphs" fill="#111" stroke="#111" stroke-width="0.18">Hs746t</text>
<line x1="439.60" y1="173.50" x2="445.20" y2="173.50" stroke="#111" stroke-width="0.6"/>
<polygon points="440.96,172.49 443.84,172.49 442.40,174.79" fill="#000"/>
<text x="449.00" y="174.80" font-size="3.7" textLength="18.50" lengthAdjust="spacingAndGlyphs" fill="#3a3a3a" stroke="#3a3a3a" stroke-width="0.06">ADC vehicle</text>
<line x1="439.60" y1="179.00" x2="445.20" y2="179.00" stroke="#111" stroke-width="0.6"/>
<polygon points="442.40,177.56 443.84,179.00 442.40,180.44 440.96,179.00" fill="#000"/>
<text x="449.00" y="180.30" font-size="3.7" textLength="29.75" lengthAdjust="spacingAndGlyphs" fill="#3a3a3a" stroke="#3a3a3a" stroke-width="0.06">Isotype control ADC</text>
<line x1="439.60" y1="184.40" x2="445.20" y2="184.40" stroke="#111" stroke-width="0.6"/>
<circle cx="442.40" cy="184.40" r="1.15" fill="#000"/>
<text x="449.00" y="185.70" font-size="3.7" textLength="9.00" lengthAdjust="spacingAndGlyphs" fill="#3a3a3a" stroke="#3a3a3a" stroke-width="0.06">W0101</text>
<text x="439.85" y="195.40" font-size="3.7" textLength="6.80" lengthAdjust="spacingAndGlyphs" fill="#3a3a3a" stroke="#3a3a3a" stroke-width="0.06">n = 6</text>
<text x="439.85" y="199.50" font-size="3.7" textLength="19.50" lengthAdjust="spacingAndGlyphs" fill="#3a3a3a" stroke="#3a3a3a" stroke-width="0.06">3 mg/kg Q4d6</text>
<text transform="translate(420.30,198.15) rotate(-90)" x="0" y="0" font-size="4.3" font-weight="bold" text-anchor="middle" textLength="54.90" lengthAdjust="spacingAndGlyphs" fill="#111" stroke="#111" stroke-width="0.18">Mean tumor volume (mm<tspan font-size="2.8" dy="-1.2">3</tspan><tspan dy="1.2">)</tspan></text>
<text x="468.20" y="236.50" font-size="4.4" font-weight="bold" textLength="24.80" lengthAdjust="spacingAndGlyphs" fill="#111" stroke="#111" stroke-width="0.18">Time (days)</text>
<polyline points="453.60,223.50 469.90,222.40 481.90,219.30 497.80,204.90 513.40,185.60" fill="none" stroke="#111" stroke-width="0.8" stroke-linejoin="round"/>
<line x1="481.90" y1="215.70" x2="481.90" y2="219.30" stroke="#111" stroke-width="0.6"/>
<line x1="480.90" y1="215.70" x2="482.90" y2="215.70" stroke="#111" stroke-width="0.6"/>
<line x1="497.80" y1="198.40" x2="497.80" y2="204.90" stroke="#111" stroke-width="0.6"/>
<line x1="496.80" y1="198.40" x2="498.80" y2="198.40" stroke="#111" stroke-width="0.6"/>
<line x1="513.40" y1="179.10" x2="513.40" y2="185.60" stroke="#111" stroke-width="0.6"/>
<line x1="512.40" y1="179.10" x2="514.40" y2="179.10" stroke="#111" stroke-width="0.6"/>
<polygon points="451.98,222.36 455.23,222.36 453.60,224.96" fill="#000"/>
<polygon points="468.27,221.26 471.52,221.26 469.90,223.86" fill="#000"/>
<polygon points="480.27,218.16 483.52,218.16 481.90,220.76" fill="#000"/>
<polygon points="496.18,203.76 499.43,203.76 497.80,206.36" fill="#000"/>
<polygon points="511.77,184.46 515.02,184.46 513.40,187.06" fill="#000"/>
<polyline points="453.60,223.50 469.90,222.40 481.90,219.30 497.80,208.00 513.40,191.20" fill="none" stroke="#111" stroke-width="0.8" stroke-linejoin="round"/>
<line x1="497.80" y1="203.00" x2="497.80" y2="208.00" stroke="#111" stroke-width="0.6"/>
<line x1="496.80" y1="203.00" x2="498.80" y2="203.00" stroke="#111" stroke-width="0.6"/>
<line x1="513.40" y1="184.00" x2="513.40" y2="191.20" stroke="#111" stroke-width="0.6"/>
<line x1="512.40" y1="184.00" x2="514.40" y2="184.00" stroke="#111" stroke-width="0.6"/>
<polygon points="453.60,221.88 455.23,223.50 453.60,225.12 451.98,223.50" fill="#000"/>
<polygon points="469.90,220.78 471.52,222.40 469.90,224.03 468.27,222.40" fill="#000"/>
<polygon points="481.90,217.68 483.52,219.30 481.90,220.93 480.27,219.30" fill="#000"/>
<polygon points="497.80,206.38 499.43,208.00 497.80,209.62 496.18,208.00" fill="#000"/>
<polygon points="513.40,189.57 515.02,191.20 513.40,192.82 511.77,191.20" fill="#000"/>
<polyline points="453.60,223.50 469.90,222.40 481.90,219.30 497.80,210.40 513.40,195.20" fill="none" stroke="#111" stroke-width="0.8" stroke-linejoin="round"/>
<circle cx="453.60" cy="223.50" r="1.30" fill="#000"/>
<circle cx="469.90" cy="222.40" r="1.30" fill="#000"/>
<circle cx="481.90" cy="219.30" r="1.30" fill="#000"/>
<circle cx="497.80" cy="210.40" r="1.30" fill="#000"/>
<circle cx="513.40" cy="195.20" r="1.30" fill="#000"/>
</svg>
</body></html>
